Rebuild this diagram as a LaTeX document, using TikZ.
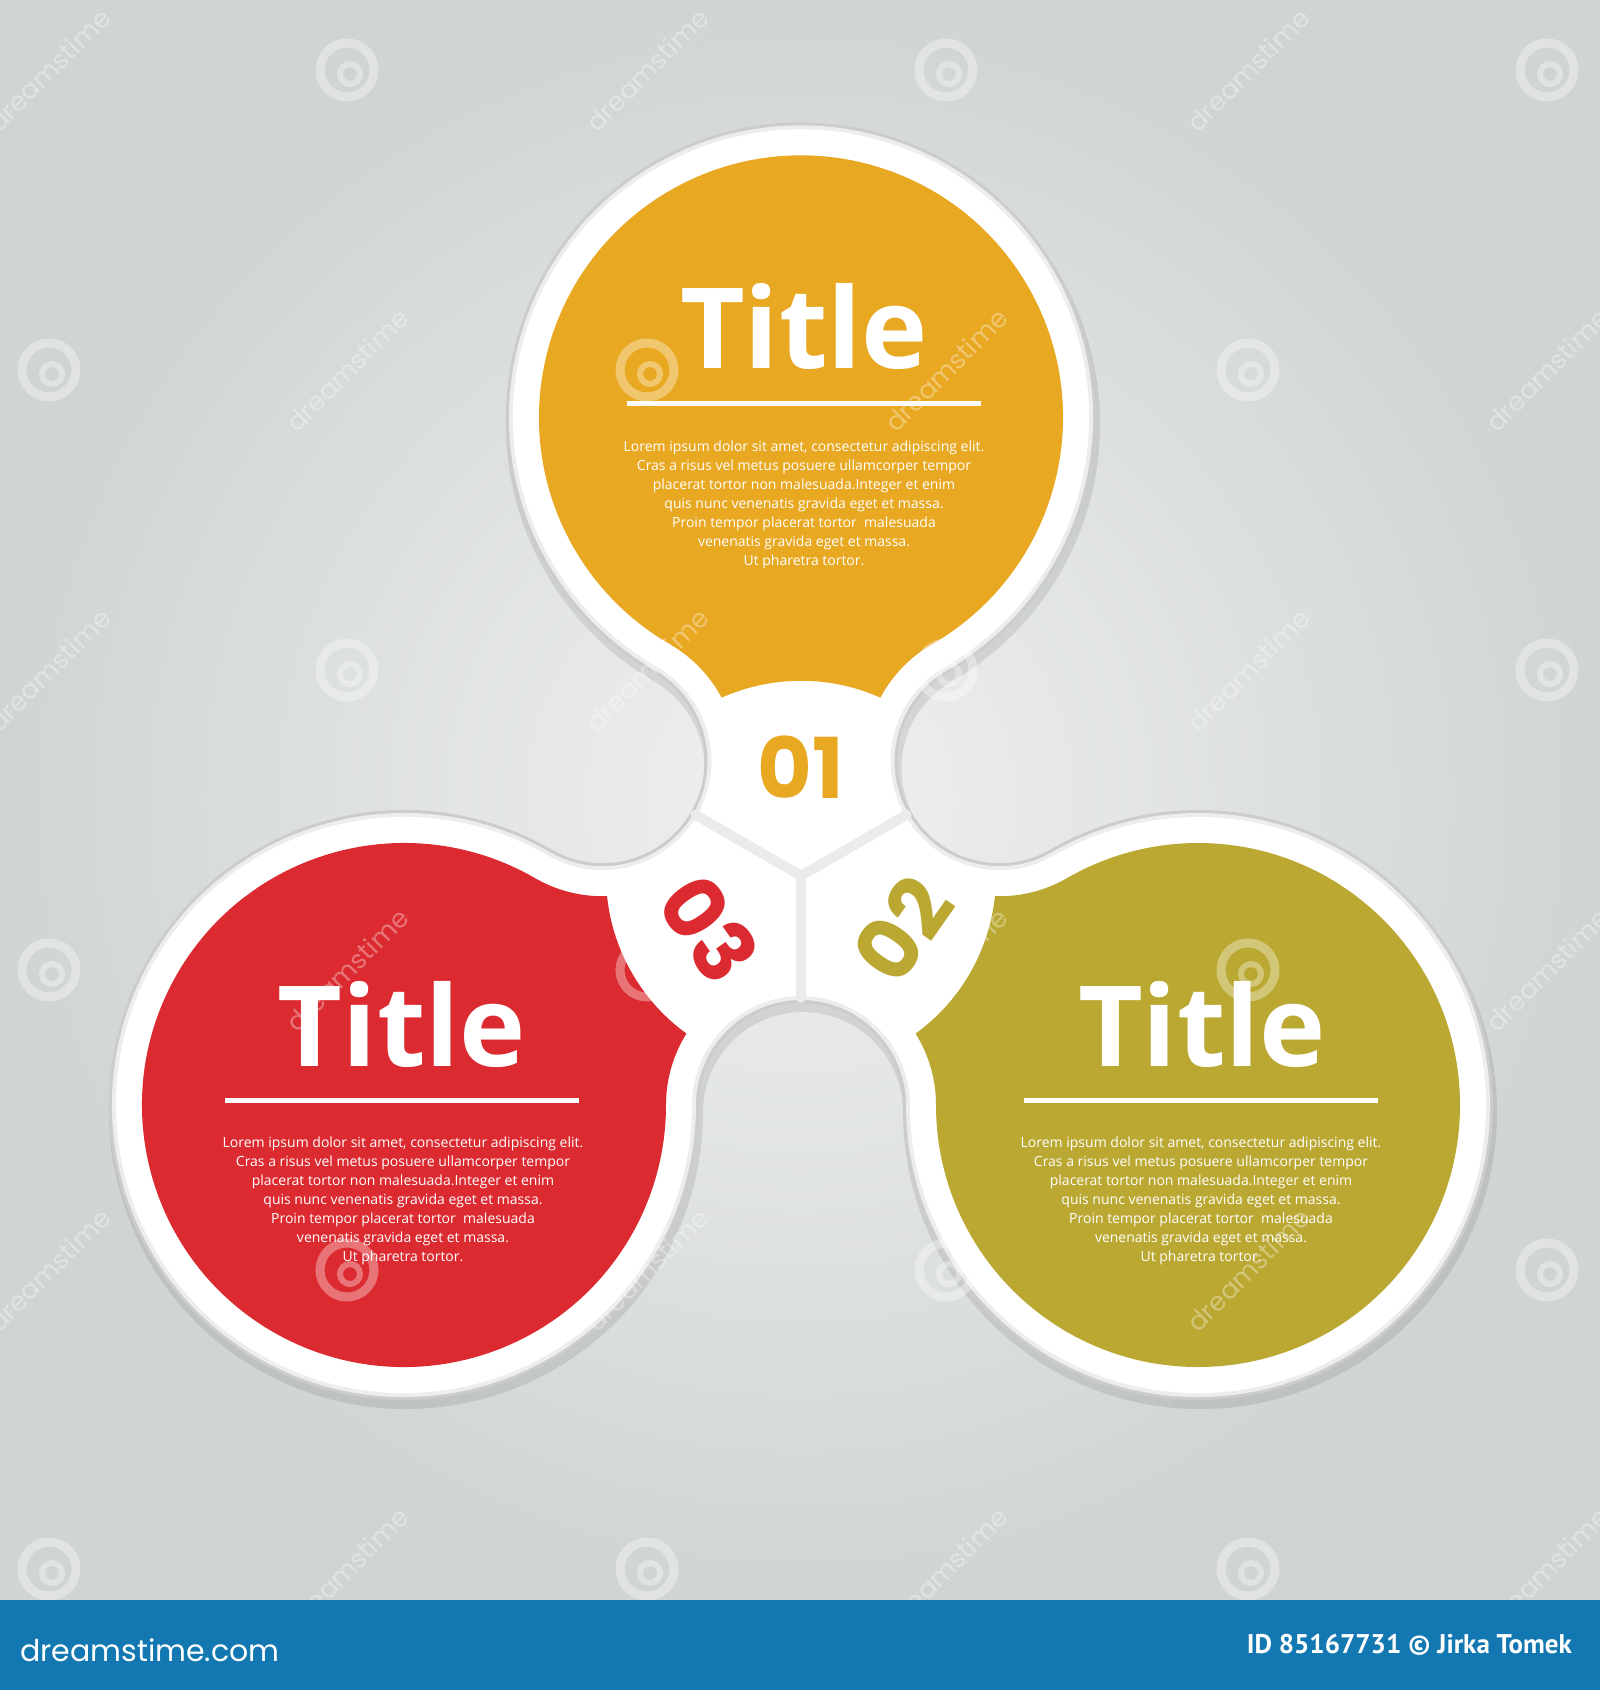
\documentclass[tikz,border=0pt]{standalone}
\usepackage{fontspec}
\setmainfont{Open Sans}
\newfontfamily\numfont{Poppins}
\newfontfamily\idfont{PT Sans}
\usetikzlibrary{calc}

\definecolor{bgIn}{RGB}{239,241,240}
\definecolor{bgOut}{RGB}{208,213,210}
\definecolor{cOrange}{RGB}{232,168,34}
\definecolor{cRed}{RGB}{220,42,49}
\definecolor{cOlive}{RGB}{186,168,50}
\definecolor{cBanner}{RGB}{19,120,177}

\newcommand{\lorem}{Lorem ipsum dolor sit amet, consectetur adipiscing elit.\\
Cras a risus vel metus posuere ullamcorper tempor\\
placerat tortor non malesuada.Integer et enim\\
quis nunc venenatis gravida eget et massa.\\
Proin tempor placerat tortor\ \ malesuada\\
venenatis gravida eget et massa.\hspace*{24pt}\\
Ut pharetra tortor.}

\tikzset{%
	trefoil/.style 2 args={insert path={
		($(top)+(-60:#1)$) arc[start angle=-60, end angle=240, radius=#1]
		arc[start angle=60, end angle=-120, radius=#2]
		arc[start angle=60, end angle=360, radius=#1]
		arc[start angle=180, end angle=0, radius=#2]
		arc[start angle=180, end angle=480, radius=#1]
		arc[start angle=300, end angle=120, radius=#2] -- cycle}},
	wedge/.style 2 args={insert path={
		($(mid)+(#1:195)$) -- ($(mid)+(#1:800)$)
		arc[start angle=#1, end angle=#2, radius=800]
		-- ($(mid)+(#2:195)$) arc[start angle=#2, end angle=#1, radius=195] -- cycle}},
	title/.style={text=white, anchor=base, inner sep=0pt,
		font=\bfseries\fontsize{112}{112}\selectfont},
	uline/.style={fill=white, minimum width=354pt, minimum height=5pt, inner sep=0pt},
	body/.style={text=white, align=center, inner sep=0pt,
		font=\fontsize{14}{18.9}\selectfont},
	num/.style={inner sep=0pt, font=\numfont\bfseries\fontsize{84}{84}\selectfont},
	groove/.style={line width=10pt, black!8, line cap=round},
	wmring/.style={draw=white, opacity=.35},
	wmtext/.style={text=white, opacity=.35, rotate=45, inner sep=0pt,
		font=\numfont\fontsize{26}{26}\selectfont},
}

\begin{document}
\begin{tikzpicture}[x=1pt,y=1pt]
	\useasboundingbox (0,0) rectangle (1600,1690);

	% Background
	\shade[inner color=bgIn, outer color=bgOut] (0,90) rectangle (1600,1690);

	\coordinate (top) at (801,1272.6);
	\coordinate (left) at (404,585);
	\coordinate (right) at (1198,585);
	\coordinate (mid) at (801,814.2);

	% White shape with its rim and shadow
	\fill[black, opacity=.09, transform canvas={xshift=2pt, yshift=-7pt}] [trefoil={297}{100}];
	\fill[black!20] [trefoil={295}{102}];
	\fill[black!7] [trefoil={292}{105}];
	\fill[white] [trefoil={288}{109}];

	% Coloured parts
	\begin{scope}
		\clip [trefoil={262}{135}];
		\fill[cOrange] [wedge={30}{150}];
		\fill[cRed] [wedge={150}{270}];
		\fill[cOlive] [wedge={270}{390}];
	\end{scope}

	% Grooves of the hub
	\coordinate (g1) at ($(mid)+(30:122)$);
	\coordinate (g2) at ($(mid)+(150:122)$);
	\coordinate (g3) at ($(mid)+(270:122)$);
	\draw[groove] (mid) -- (g1);
	\draw[groove] (mid) -- (g2);
	\draw[groove] (mid) -- (g3);

	% Numbers
	\node[num, text=cOrange] (n1) at ($(mid)+(90:109)$) {01};
	\node[num, text=cOlive, rotate=55] (n2) at ($(mid)+(-28:115)$) {02};
	\node[num, text=cRed, rotate=-55] (n3) at ($(mid)+(210:106)$) {03};

	% Top circle
	\node[title] (t1) at (804,1321) {Title};
	\node[uline] (u1) at (804,1286) {};
	\node[body] (b1) at (804,1185) {\lorem};

	% Left circle
	\node[title] (t3) at (402,623) {Title};
	\node[uline] (u3) at (402,589) {};
	\node[body] (b3) at (403,489) {\lorem};

	% Right circle
	\node[title] (t2) at (1202,623) {Title};
	\node[uline] (u2) at (1201,589) {};
	\node[body] (b2) at (1201,489) {\lorem};

	% Watermark
	\foreach \x/\y [count=\i] in {347/1620,946/1620,1547/1620,49/1320,647/1320,1248/1320,
		347/1020,946/1020,1547/1020,49/720,647/720,1248/720,
		347/420,946/420,1547/420,49/121,647/121,1248/121}{
		\draw[wmring, line width=9pt] (\x,\y) circle (27);
		\draw[wmring, line width=6pt] (\x+3,\y-4) circle (10);
	}
	\foreach \x/\y [count=\i] in {49/1620,647/1620,1248/1620,347/1320,946/1320,1547/1320,
		49/1020,647/1020,1248/1020,347/720,946/720,1547/720,
		49/420,647/420,1248/420,347/121,946/121,1547/121}{
		\node[wmtext] (wm\i) at (\x,\y) {dreamstime};
	}

	% Banner
	\fill[cBanner] (0,0) rectangle (1600,90);
	\node[anchor=west, text=white, inner sep=0pt, font=\numfont\fontsize{30}{30}\selectfont] (logo) at (20,40) {dreamstime.com};
	\node[anchor=east, text=white, inner sep=0pt, font=\idfont\bfseries\fontsize{27}{27}\selectfont] (credit) at (1572,45) {ID 85167731 © Jirka Tomek};

\end{tikzpicture}
\end{document}
